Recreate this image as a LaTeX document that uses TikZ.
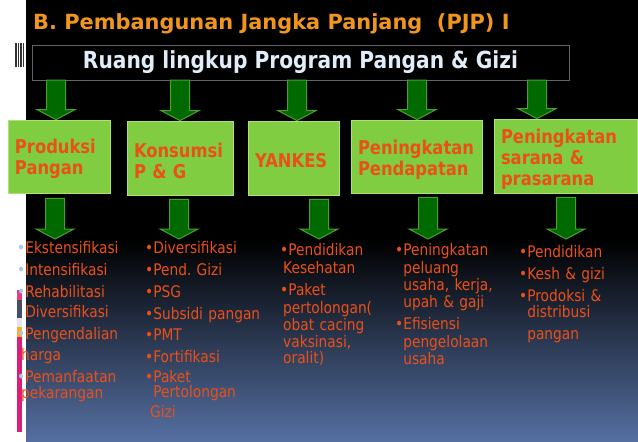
\documentclass[tikz,border=0pt]{standalone}
\usepackage{fontspec}
\setmainfont{DejaVu Sans}
\newfontfamily\narrowfont[FakeStretch=0.86]{DejaVu Sans}
\usetikzlibrary{calc}
\frenchspacing

\definecolor{titleorange}{RGB}{240,150,30}
\definecolor{boxgreen}{RGB}{128,205,65}
\definecolor{boxedge}{RGB}{175,225,120}
\definecolor{textred}{RGB}{235,80,25}
\definecolor{arrowdark}{RGB}{0,105,0}
\definecolor{arrowedge}{RGB}{75,160,45}
\definecolor{ruangtext}{RGB}{225,238,250}
\definecolor{ruangedge}{RGB}{95,100,110}
\definecolor{lightbullet}{RGB}{165,200,235}
\definecolor{bgblue}{RGB}{85,112,162}
\definecolor{stripa}{RGB}{230,60,130}
\definecolor{stripb}{RGB}{70,80,100}
\definecolor{stripc}{RGB}{225,230,235}
\definecolor{stripd}{RGB}{245,175,40}
\definecolor{stripe}{RGB}{220,30,120}

% block arrow from one anchor down to another, at the x of a coordinate
\newcommand{\greenarrow}[4]{%
  \path (#1 -| #3) ++(0,#4) coordinate (arrtop)
        (#2 -| #3) coordinate (arrtip);
  \filldraw[arrowstyle]
    ($(arrtop)+(-9.5,0)$) -- ($(arrtop)+(9.5,0)$)
    -- ($(arrtip)+(9.5,-10)$) -- ($(arrtip)+(19,-10)$)
    -- (arrtip) -- ($(arrtip)+(-19,-10)$)
    -- ($(arrtip)+(-9.5,-10)$) -- cycle;
}

\begin{document}
\begin{tikzpicture}[
    x=1pt, y=-1pt,
    arrowstyle/.style={fill=arrowdark, draw=arrowedge, line width=1pt},
    greenbox/.style={
      rectangle,
      fill=boxgreen,
      draw=boxedge,
      line width=0.8pt,
      inner xsep=7pt,
      inner ysep=0pt,
      align=left,
      text=textred,
      execute at begin node={\rule{0pt}{20pt}},
      font={\narrowfont\bfseries\fontsize{19}{21}\selectfont}
    },
    listtext/.style={
      anchor=base west,
      inner sep=0pt,
      text width=125pt,
      align=left,
      text=textred,
      font={\narrowfont\fontsize{16}{17}\selectfont}
    },
  ]
    \useasboundingbox (0,0) rectangle (638,442);

    % slide background
    \fill[white] (0,0) rectangle (26,442);
    \fill[black] (26,0) rectangle (638,240);
    \shade[top color=black, bottom color=bgblue] (26,240) rectangle (638,442);

    % strip on the left edge
    \foreach \sx in {16,18.5,21,23.5}
      \draw[black!80, line width=1.1pt] (\sx,43) -- (\sx,67);
    \fill[stripa] (17,290) rectangle (22,300);
    \fill[stripb] (17,300) rectangle (22,318);
    \fill[stripc] (17,318) rectangle (22,327);
    \fill[stripd] (17,327) rectangle (22,337);
    \fill[stripe] (17,337) rectangle (22,432);

    \node[
      anchor=base west,
      inner sep=0pt,
      text=titleorange,
      font={\bfseries\fontsize{20.9}{24}\selectfont}
    ] (title) at (33,29) {B. Pembangunan Jangka Panjang\ \ (PJP) I};

    \node[
      rectangle,
      fill=black,
      draw=ruangedge,
      minimum width=537pt,
      minimum height=35pt,
      inner sep=0pt,
      text=ruangtext,
      font={\narrowfont\bfseries\fontsize{23.5}{26}\selectfont}
    ] (ruang) at (300.5,62.5) {Ruang lingkup Program Pangan \& Gizi};

    % the five programme boxes
    \node[greenbox, text width=88pt, minimum height=73pt] (prod) at (59,156.5) {Produksi\\Pangan};
    \node[greenbox, text width=92pt, minimum height=74pt] (kons) at (180,158) {Konsumsi\\P \& G};
    \node[greenbox, text width=77pt, minimum height=74pt] (yankes) at (293.5,158) {YANKES};
    \node[greenbox, text width=117pt, minimum height=73pt] (pend) at (416.5,156.5) {Peningkatan\\Pendapatan};
    \node[greenbox, text width=129pt, minimum height=74pt] (sarana) at (565.5,156) {Peningkatan\\sarana \&\\prasarana};

    % x positions of the arrows and the top of the lists
    \coordinate (ta1) at (56,0);
    \coordinate (ta2) at (180,0);
    \coordinate (ta3) at (297,0);
    \coordinate (ta4) at (417,0);
    \coordinate (ta5) at (537,0);
    \coordinate (ba1) at (55,0);
    \coordinate (ba2) at (179,0);
    \coordinate (ba3) at (319,0);
    \coordinate (ba4) at (428,0);
    \coordinate (ba5) at (566,0);
    \coordinate (listtop) at (0,239);

    \greenarrow{ruang.south}{prod.north}{ta1}{0}
    \greenarrow{ruang.south}{kons.north}{ta2}{0}
    \greenarrow{ruang.south}{yankes.north}{ta3}{0}
    \greenarrow{ruang.south}{pend.north}{ta4}{0}
    \greenarrow{ruang.south}{sarana.north}{ta5}{0}

    \greenarrow{prod.south}{listtop}{ba1}{5}
    \greenarrow{kons.south}{listtop}{ba2}{4}
    \greenarrow{yankes.south}{listtop}{ba3}{4}
    \greenarrow{pend.south}{listtop}{ba4}{4}
    \greenarrow{sarana.south}{listtop}{ba5}{4}

    % lists under the boxes
    \node[listtext] (list1) at (17,253) {%
      \textcolor{lightbullet}{•}Ekstensifikasi\\[5pt]
      \textcolor{lightbullet}{•}Intensifikasi\\[5pt]
      \textcolor{lightbullet}{•}Rehabilitasi\\[3pt]
      \hphantom{•}Diversifikasi\\[5pt]
      \textcolor{lightbullet}{•}Pengendalian\\[4pt]
      \hspace*{4pt}harga\\[5pt]
      \textcolor{lightbullet}{•}Pemanfaatan\\[-1pt]
      \hspace*{4pt}pekarangan};

    \node[listtext] (list2) at (145,253) {%
      •Diversifikasi\\[5pt]
      •Pend. Gizi\\[5pt]
      •PSG\\[5pt]
      •Subsidi pangan\\[4pt]
      •PMT\\[5pt]
      •Fortifikasi\\[3pt]
      •Paket\\[-2pt]
      \hphantom{•}Pertolongan\\[3pt]
      \hspace*{5pt}Gizi};

    \node[listtext] (list3) at (280,255) {%
      •Pendidikan\\[1pt]
      \hspace*{3pt}Kesehatan\\[5pt]
      •Paket\\[1pt]
      \hspace*{3pt}pertolongan(\\
      \hspace*{3pt}obat cacing\\
      \hspace*{3pt}vaksinasi,\\[-1pt]
      \hspace*{3pt}oralit)};

    \node[listtext] (list4) at (395,255) {%
      •Peningkatan\\[1pt]
      \hphantom{•}peluang\\
      \hphantom{•}usaha, kerja,\\
      \hphantom{•}upah \& gaji\\[5pt]
      •Efisiensi\\[1pt]
      \hphantom{•}pengelolaan\\
      \hphantom{•}usaha};

    \node[listtext] (list5) at (519,257) {%
      •Pendidikan\\[5pt]
      •Kesh \& gizi\\[5pt]
      •Prodoksi \&\\[-1pt]
      \hphantom{•}distribusi\\[5pt]
      \hphantom{•}pangan};
  \end{tikzpicture}
\end{document}
